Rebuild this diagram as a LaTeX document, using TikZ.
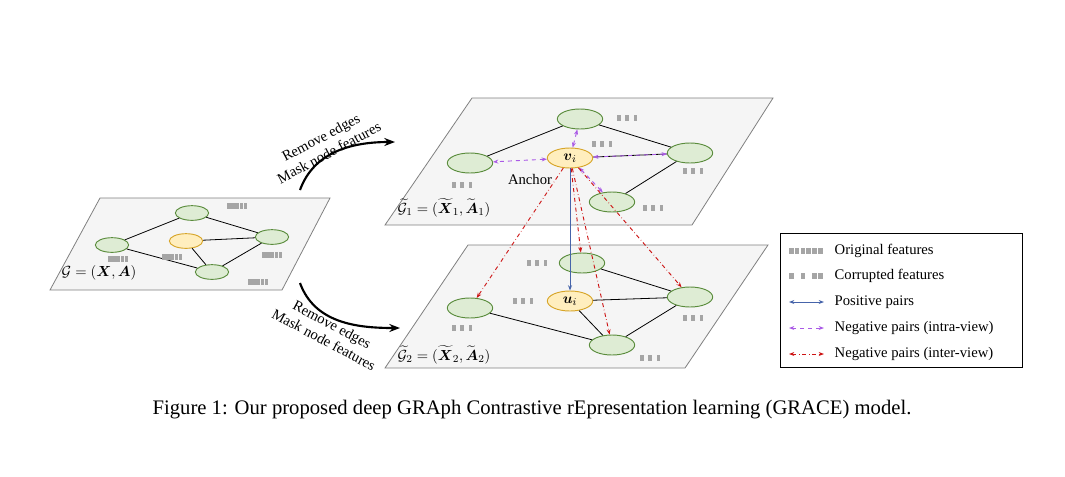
\documentclass[tikz,border=0pt]{standalone}
\usepackage{amsmath}
\usepackage{amssymb}
\usepackage{fontspec}
\setmainfont{Liberation Serif}
\usetikzlibrary{calc}
\usetikzlibrary{arrows.meta}
\usetikzlibrary{shapes.geometric}
\definecolor{nodegreen}{RGB}{222,236,212}
\definecolor{edgegreen}{RGB}{90,140,60}
\definecolor{nodeyellow}{RGB}{255,238,190}
\definecolor{edgeyellow}{RGB}{215,165,40}
\definecolor{planegray}{RGB}{245,245,245}
\definecolor{featgray}{RGB}{165,165,165}
\definecolor{posblue}{RGB}{70,100,170}
\definecolor{negpurple}{RGB}{170,90,230}
\definecolor{negred}{RGB}{205,20,20}
\tikzset{
  plane/.style={draw=gray, fill=planegray, line width=0.6pt},
  gnode/.style={ellipse, draw=edgegreen, fill=nodegreen, line width=0.7pt, minimum width=34pt, minimum height=15pt, inner sep=0pt},
  anode/.style={ellipse, draw=edgeyellow, fill=nodeyellow, line width=0.7pt, minimum width=34pt, minimum height=15pt, inner sep=0pt},
  sgnode/.style={gnode, minimum width=25pt, minimum height=11pt},
  sanode/.style={anode, minimum width=25pt, minimum height=11pt},
  gedge/.style={line width=0.6pt},
  pospair/.style={posblue, line width=0.7pt, -{Stealth[length=4pt]}},
  intra/.style={negpurple, dashed, line width=0.7pt, {Stealth[length=4pt]}-{Stealth[length=4pt]}},
  inter/.style={negred, dash dot, line width=0.7pt, -{Stealth[length=4pt]}},
  bigarrow/.style={line width=1.6pt, -{Stealth[length=8pt]}}
}
\newcommand{\origfeat}[1]{%
  \foreach \k in {0,...,4} {\fill[featgray] ($(#1)+(\k*4.2-10,-3)$) rectangle ++(3.5,6);}}
\newcommand{\corrfeat}[1]{%
  \foreach \k in {0,2,4} {\fill[featgray] ($(#1)+(\k*4.2-10,-3)$) rectangle ++(3.5,6);}}
\begin{document}
\begin{tikzpicture}[x=0.75pt, y=-0.75pt, font=\fontsize{11}{13}\selectfont]
\useasboundingbox (0,0) rectangle (1065,476);

% input graph
\draw[plane] (50,290) -- (100,198) -- (330,198) -- (282,290) -- cycle;
\node[sgnode] (g0t) at (192,213) {};
\node[sgnode] (g0l) at (112,245) {};
\node[sanode] (g0c) at (186,241) {};
\node[sgnode] (g0r) at (272,237) {};
\node[sgnode] (g0b) at (212,272) {};
\draw[gedge] (g0l) -- (g0t) (g0t) -- (g0r) (g0l) -- (g0b) (g0c) -- (g0r) (g0c) -- (g0b) (g0b) -- (g0r);
\origfeat{237,206} \origfeat{172,257} \origfeat{118,259} \origfeat{272,255} \origfeat{258,282}
\node[anchor=west] (lab0) at (57,273) {$\mathcal{G}=(\boldsymbol{X},\boldsymbol{A})$};

% view 1
\draw[plane] (385,225) -- (472,98) -- (773,98) -- (692,225) -- cycle;
\node[gnode] (v1t) at (580,119) {};
\node[gnode] (v1l) at (470,163) {};
\node[anode] (vi) at (570,158) {$\boldsymbol{v}_i$};
\node[gnode] (v1r) at (690,153) {};
\node[gnode] (v1b) at (612,202) {};
\draw[gedge] (v1l) -- (v1t) (v1t) -- (v1r) (vi) -- (v1r) (v1r) -- (v1b);
\draw[intra] (vi) -- (v1l);
\draw[intra] (vi) -- (v1t);
\draw[intra] (vi) -- (v1r);
\draw[intra] (vi) -- (v1b);
\node (anchor) at (530,179) {Anchor};
\corrfeat{627,118} \corrfeat{602,144} \corrfeat{462,185} \corrfeat{693,171} \corrfeat{653,208}
\node[anchor=west] (lab1) at (393,208) {$\widetilde{\mathcal{G}}_1=(\widetilde{\boldsymbol{X}}_1,\widetilde{\boldsymbol{A}}_1)$};

% view 2
\draw[plane] (385,368) -- (468,245) -- (768,245) -- (685,368) -- cycle;
\node[gnode] (v2t) at (582,263) {};
\node[anode] (ui) at (570,301) {$\boldsymbol{u}_i$};
\node[gnode] (v2l) at (470,308) {};
\node[gnode] (v2r) at (690,297) {};
\node[gnode] (v2b) at (612,345) {};
\draw[gedge] (v2t) -- (v2r) (ui) -- (v2r) (v2l) -- (v2b) (ui) -- (v2b) (v2r) -- (v2b);
\corrfeat{537,263} \corrfeat{523,301} \corrfeat{462,328} \corrfeat{693,318} \corrfeat{650,358}
\node[anchor=west] (lab2) at (393,355) {$\widetilde{\mathcal{G}}_2=(\widetilde{\boldsymbol{X}}_2,\widetilde{\boldsymbol{A}}_2)$};

% cross-view pairs
\draw[pospair] (vi) -- (ui);
\draw[inter] (vi) -- (v2l);
\draw[inter] (vi) -- (v2t);
\draw[inter] (vi) -- (v2b);
\draw[inter] (vi) -- (v2r);

% augmentation arrows
\coordinate (a1s) at (300,190);
\coordinate (a1e) at (395,142);
\coordinate (a2s) at (300,283);
\coordinate (a2e) at (400,328);
\draw[bigarrow] (a1s) to[out=70,in=180] (a1e);
\draw[bigarrow] (a2s) to[out=-70,in=180] (a2e);
\node[rotate=28, align=center] (aug1) at (325,145) {Remove edges\\Mask node features};
\node[rotate=-28, align=center] (aug2) at (328,332) {Remove edges\\Mask node features};

% legend
\draw[line width=0.6pt] (780,233) rectangle (1022,367);
\foreach \y/\t in {251/Original features, 276/Corrupted features, 302/Positive pairs, 328/Negative pairs (intra-view), 354/Negative pairs (inter-view)}
  \node[anchor=west] at (830,\y) {\t};
\foreach \k in {0,...,5} {\fill[featgray] (789+\k*5.8,248) rectangle ++(4.5,6);}
\foreach \k in {0,2,4,5} {\fill[featgray] (789+\k*5.8,273) rectangle ++(4.5,6);}
\coordinate (p1) at (789,302); \coordinate (p2) at (824,302);
\coordinate (q1) at (789,328); \coordinate (q2) at (824,328);
\coordinate (r1) at (789,354); \coordinate (r2) at (824,354);
\draw[posblue, line width=0.7pt, {Stealth[length=4pt]}-{Stealth[length=4pt]}] (p1) -- (p2);
\draw[intra] (q1) -- (q2);
\draw[negred, dash dot, line width=0.7pt, {Stealth[length=4pt]}-{Stealth[length=4pt]}] (r1) -- (r2);

% caption
\node (caption) at (532,410) {\fontsize{15.5}{18}\selectfont Figure 1: Our proposed deep GRAph Contrastive rEpresentation learning (GRACE) model.};
\end{tikzpicture}
\end{document}
